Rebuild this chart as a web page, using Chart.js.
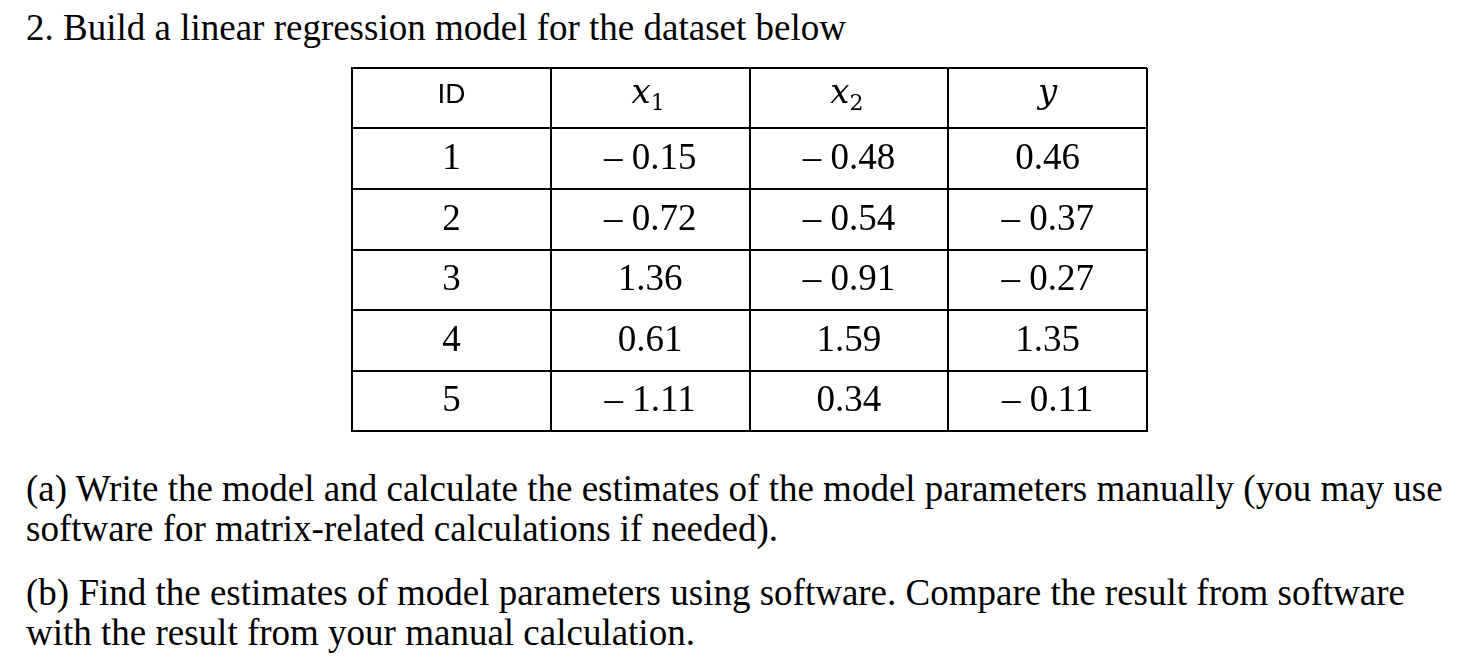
<!DOCTYPE html>
<html>
<head>
<meta charset="utf-8">
<script src="https://cdn.jsdelivr.net/npm/chart.js@4.4.0/dist/chart.umd.min.js"></script>
<style>
  body { margin: 0; background: #fff; width: 1461px; height: 666px; overflow: hidden; font-family: "Liberation Serif", "Times New Roman", serif; color: #000; }
  .txt { position: absolute; left: 26px; font-size: 37px; line-height: 40px; white-space: nowrap; }
  #tableBox { position: absolute; left: 351px; top: 67px; width: 797px; height: 365px; }
</style>
</head>
<body>
<div class="txt" style="top:8px">2. Build a linear regression model for the dataset below</div>
<div id="tableBox"><canvas id="tbl"></canvas></div>
<div class="txt" style="top:469px">(a) Write the model and calculate the estimates of the model parameters manually (you may use</div>
<div class="txt" style="top:509px">software for matrix-related calculations if needed).</div>
<div class="txt" style="top:573px">(b) Find the estimates of model parameters using software. Compare the result from software</div>
<div class="txt" style="top:613px">with the result from your manual calculation.</div>
<script>
const headers = ["ID", "x1", "x2", "y"];
const ids = [1, 2, 3, 4, 5];
const x1Values = [-0.15, -0.72, 1.36, 0.61, -1.11];
const x2Values = [-0.48, -0.54, -0.91, 1.59, 0.34];
const yValues = [0.46, -0.37, -0.27, 1.35, -0.11];

const columns = [ids, x1Values, x2Values, yValues];
const rowCount = ids.length + 1;

const fmt = v => typeof v === "number" && v < 0 ? "\u2013 " + Math.abs(v).toFixed(2) : (Number.isInteger(v) ? String(v) : v.toFixed(2));

// one point per cell, text drawn at the point
const cells = [];
headers.forEach((h, c) => cells.push({ x: c + 0.5, y: rowCount - 0.5, text: h, header: true }));
columns.forEach((col, c) => col.forEach((v, r) => cells.push({ x: c + 0.5, y: rowCount - r - 1.5, text: fmt(v) })));

const cellText = {
  id: "cellText",
  afterDatasetsDraw(chart) {
    const ctx = chart.ctx;
    const meta = chart.getDatasetMeta(0);
    ctx.save();
    ctx.fillStyle = "#000";
    ctx.textBaseline = "middle";
    meta.data.forEach((pt, i) => {
      const cell = cells[i];
      if (cell.header) {
        if (cell.text === "ID") {
          ctx.font = "28px 'Liberation Sans', Arial, sans-serif";
          ctx.textAlign = "center";
          ctx.fillText("ID", pt.x, pt.y - 3);
        } else {
          const sub = cell.text.slice(1);
          ctx.font = "italic 34px 'DejaVu Serif', serif";
          ctx.textAlign = "center";
          const w = ctx.measureText(cell.text[0]).width;
          const offs = sub ? -9 : 0;
          ctx.fillText(cell.text[0], pt.x + offs, pt.y - 4);
          if (sub) {
            ctx.font = "22px 'DejaVu Serif', serif";
            ctx.textAlign = "left";
            ctx.fillText(sub, pt.x + offs + w / 2, pt.y + 6);
          }
        }
      } else {
        ctx.font = "37px 'Liberation Serif', 'Times New Roman', serif";
        ctx.textAlign = "center";
        ctx.fillText(cell.text, pt.x, pt.y + 1);
      }
    });
    ctx.restore();
  }
};

new Chart(document.getElementById("tbl"), {
  type: "scatter",
  data: { datasets: [{ data: cells.map(c => ({ x: c.x, y: c.y })), pointRadius: 0, pointHoverRadius: 0 }] },
  options: {
    responsive: true,
    maintainAspectRatio: false,
    animation: false,
    layout: { padding: 1 },
    plugins: { legend: { display: false }, tooltip: { enabled: false } },
    events: [],
    scales: {
      x: { type: "linear", min: 0, max: headers.length,
        ticks: { display: false, stepSize: 1 },
        grid: { color: "#000", lineWidth: 2, drawTicks: false },
        border: { display: true, color: "#000", width: 2 } },
      y: { type: "linear", min: 0, max: rowCount,
        ticks: { display: false, stepSize: 1 },
        grid: { color: "#000", lineWidth: 2, drawTicks: false },
        border: { display: true, color: "#000", width: 2 } }
    }
  },
  plugins: [cellText]
});
</script>
</body>
</html>
